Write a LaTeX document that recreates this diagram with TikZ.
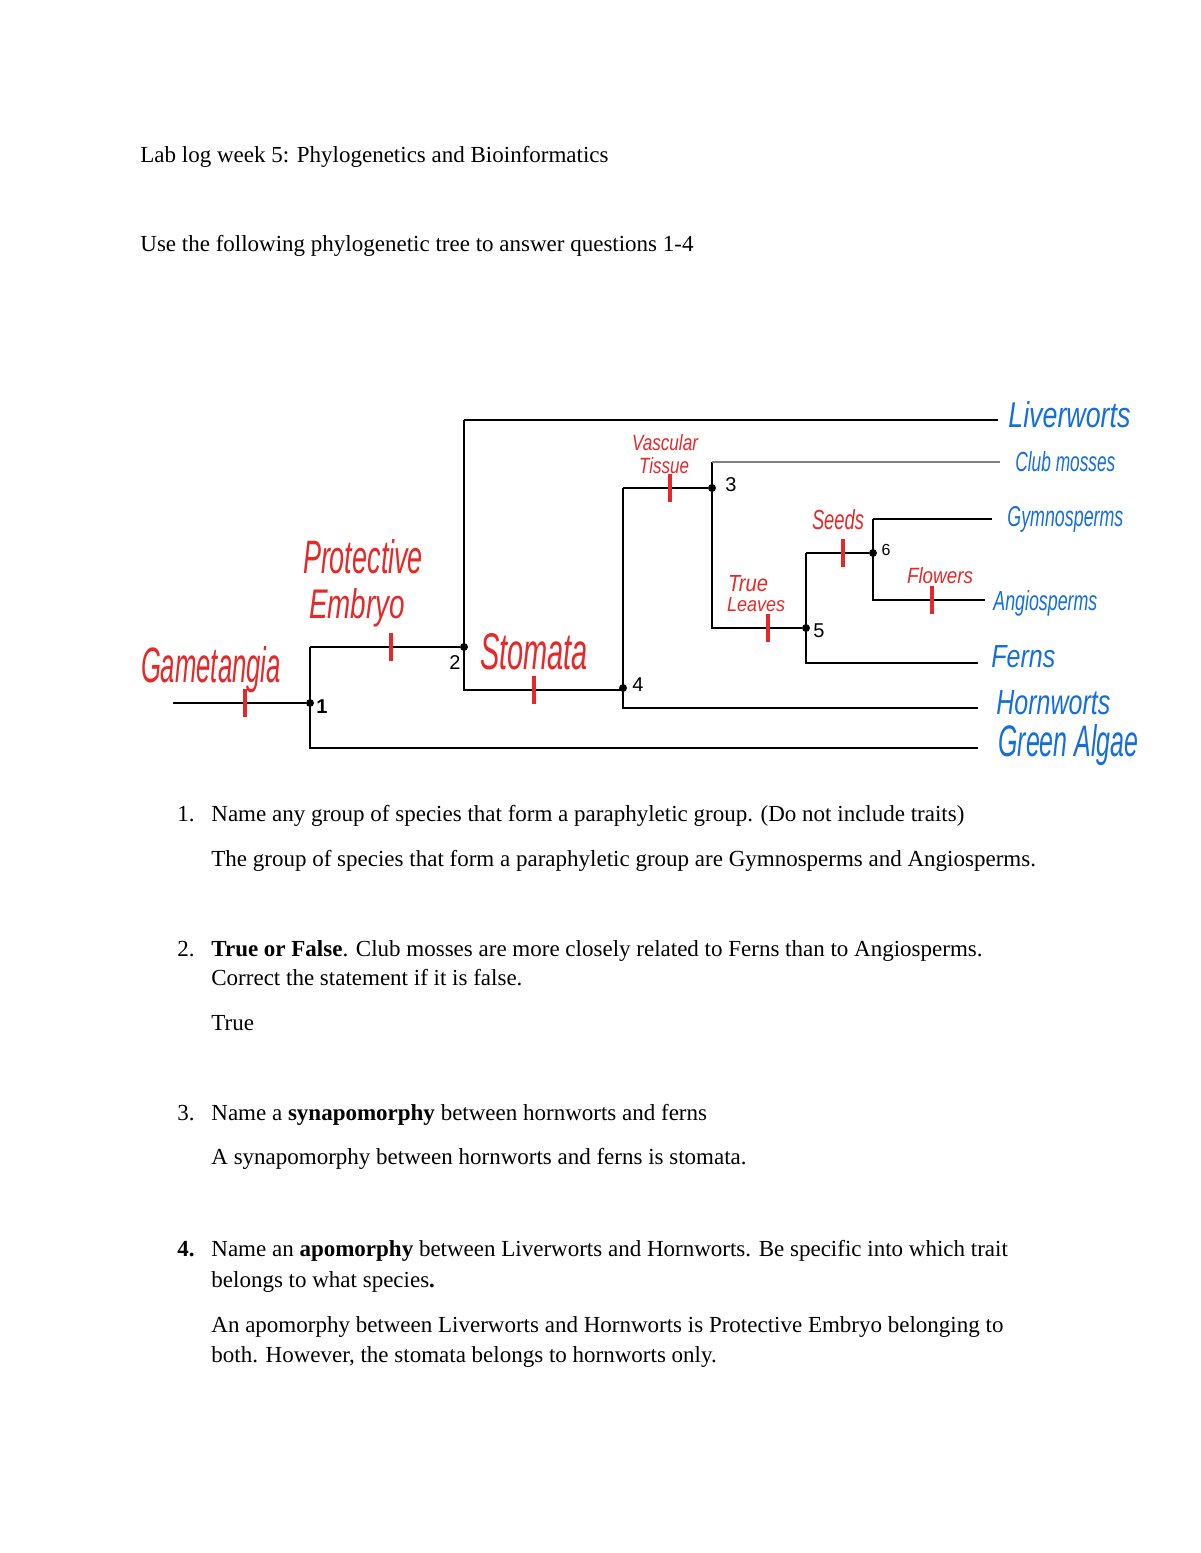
\documentclass[tikz,border=0pt]{standalone}
\usepackage{fontspec}
\usepackage{graphicx}
\setmainfont{Liberation Serif}
\newfontfamily\hand{Liberation Sans}
\definecolor{hred}{RGB}{230,40,40}
\definecolor{hblue}{RGB}{20,110,220}
\newcommand{\hw}[3]{\resizebox{#1pt}{#2pt}{\hand\itshape #3}}
\begin{document}
\begin{tikzpicture}[x=0.5pt,y=-0.5pt,
  br/.style={line width=0.8pt,black},
  dot/.style={circle,fill=black,inner sep=1.4pt},
  tick/.style={hred,line width=1.6pt},
  rl/.style={hred,inner sep=0pt},
  bl/.style={hblue,anchor=west,inner sep=0pt},
  txt/.style={anchor=base west,inner sep=0pt,font=\fontsize{11.5}{13}\selectfont}]
\useasboundingbox (0,0) rectangle (1200,1553);
\coordinate (r0) at (173,703);
\node[dot] (n1) at (310,703) {};
\node[dot] (n2) at (464,647) {};
\node[dot] (n4) at (623,688) {};
\node[dot] (n3) at (712,488) {};
\node[dot] (n5) at (806,628) {};
\node[dot] (n6) at (873,553) {};
\coordinate (t1) at (998,420);
\coordinate (t2) at (1000,462);
\coordinate (t3) at (992,519);
\coordinate (t4) at (985,600);
\coordinate (t5) at (978,663);
\coordinate (t6) at (978,708);
\coordinate (t7) at (978,748);
\draw[br] (r0) -- (n1);
\draw[br] (310,647) -- (310,748) -- (t7);
\draw[br] (310,647) -- (n2);
\draw[br] (464,420) -- (464,690) -- (623,690);
\draw[br] (464,420) -- (t1);
\draw[br] (623,488) -- (623,708) -- (t6);
\draw[br] (623,488) -- (n3);
\draw[br] (712,462) -- (712,628) -- (n5);
\draw[line width=1pt,gray] (712,462) -- (t2);
\draw[br] (806,553) -- (806,663) -- (t5);
\draw[br] (806,553) -- (n6);
\draw[br] (873,519) -- (873,600) -- (t4);
\draw[br] (873,519) -- (t3);
\foreach \x/\y in {245/703,391/647,534/690,670/488,768/628,843/553,932/600}
  \draw[tick] (\x,\y-14) -- (\x,\y+14);
\node[font=\hand\bfseries] at (322,707) {1};
\node[font=\hand] at (455,663) {2};
\node[font=\hand] at (638,685) {4};
\node[font=\hand] at (731,485) {3};
\node[font=\hand] at (819,631) {5};
\node[font=\hand\footnotesize] at (886,550) {6};
% red labels
\node[rl] at (211,670) {\hw{70}{18}{Gametangia}};
\node[rl] at (363,557) {\hw{60}{17}{Protective}};
\node[rl] at (357,608) {\hw{48}{15}{Embryo}};
\node[rl] at (534,652) {\hw{54}{18}{Stomata}};
\node[rl] at (665,443) {\hw{33}{8}{Vascular}};
\node[rl] at (664,466) {\hw{25}{8}{Tissue}};
\node[rl] at (748,584) {\hw{20}{8}{True}};
\node[rl] at (756,605) {\hw{29}{7}{Leaves}};
\node[rl] at (838,520) {\hw{26}{10}{Seeds}};
\node[rl] at (940,576) {\hw{33}{8}{Flowers}};
% blue labels
\node[bl] at (1008,415) {\hw{61}{13}{Liverworts}};
\node[bl] at (1015,462) {\hw{50}{10}{Club mosses}};
\node[bl] at (1007,519) {\hw{58}{10}{Gymnosperms}};
\node[bl] at (993,603) {\hw{52}{10}{Angiosperms}};
\node[bl] at (991,657) {\hw{32}{11}{Ferns}};
\node[bl] at (996,703) {\hw{57}{12}{Hornworts}};
\node[bl] at (998,745) {\hw{70}{16}{Green Algae}};
% text
\node[txt] (h1) at (140,162) {Lab log week 5: Phylogenetics and Bioinformatics};
\node[txt] (h2) at (140,251) {Use the following phylogenetic tree to answer questions 1-4};
\node[txt] (q1n) at (177,821) {1.};
\node[txt] (q1) at (211,821) {Name any group of species that form a paraphyletic group. (Do not include traits)};
\node[txt] (a1) at (211,866) {The group of species that form a paraphyletic group are Gymnosperms and Angiosperms.};
\node[txt] (q2n) at (177,956) {2.};
\node[txt] (q2) at (211,956) {\textbf{True or False}. Club mosses are more closely related to Ferns than to Angiosperms.};
\node[txt] (q2b) at (211,985) {Correct the statement if it is false.};
\node[txt] (a2) at (211,1030) {True};
\node[txt] (q3n) at (177,1120) {3.};
\node[txt] (q3) at (211,1120) {Name a \textbf{synapomorphy} between hornworts and ferns};
\node[txt] (a3) at (211,1164) {A synapomorphy between hornworts and ferns is stomata.};
\node[txt] (q4n) at (177,1256) {\textbf{4.}};
\node[txt] (q4) at (211,1256) {Name an \textbf{apomorphy} between Liverworts and Hornworts. Be specific into which trait};
\node[txt] (q4b) at (211,1287) {belongs to what species\textbf{.}};
\node[txt] (a4) at (211,1332) {An apomorphy between Liverworts and Hornworts is Protective Embryo belonging to};
\node[txt] (a4b) at (211,1362) {both. However, the stomata belongs to hornworts only.};
\end{tikzpicture}
\end{document}
